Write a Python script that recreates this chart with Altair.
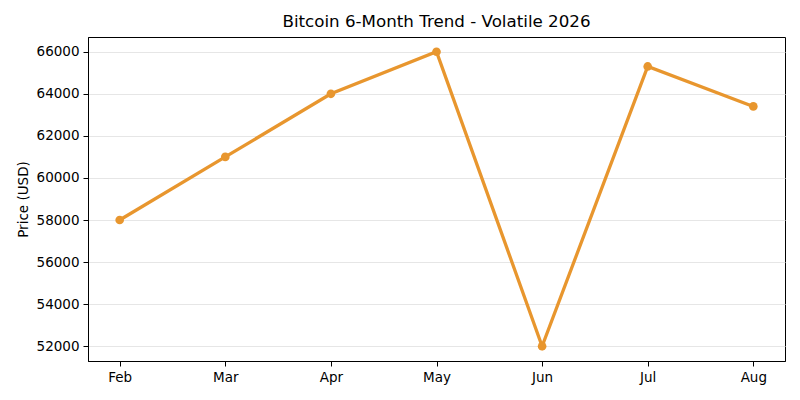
import altair as alt
import pandas as pd

months = ["Feb", "Mar", "Apr", "May", "Jun", "Jul", "Aug"]
prices = [58000, 61000, 64000, 66000, 52000, 65300, 63400]
y_ticks = [52000, 54000, 56000, 58000, 60000, 62000, 64000, 66000]

df = pd.DataFrame({"month": months, "price": prices})

FONT = "DejaVu Sans"
COLOR = "#E8962E"

x = alt.X("month:N", sort=months, title=None,
          scale=alt.Scale(type="point", padding=0.3),
          axis=alt.Axis(labelAngle=0, labelFontSize=13.5, labelColor="black",
                        labelFont=FONT, tickColor="black", tickSize=5,
                        domainColor="black", grid=False, labelPadding=4))
y = alt.Y("price:Q", title="Price (USD)",
          scale=alt.Scale(domain=[51300, 66700], nice=False, zero=False),
          axis=alt.Axis(values=y_ticks, format="d", labelFontSize=13.5,
                        labelColor="black", labelFont=FONT, tickColor="black",
                        tickSize=5, domainColor="black", grid=True,
                        gridColor="#e6e6e6", gridWidth=1, titleFontSize=13.5,
                        titleFont=FONT, titleFontWeight="normal",
                        titleColor="black", titlePadding=6, labelPadding=4))

base = alt.Chart(df).encode(x=x, y=y)
line = base.mark_line(color=COLOR, strokeWidth=3.3)
pts = base.mark_circle(color=COLOR, size=75, opacity=1)

chart = (line + pts).properties(
    width=697, height=324,
    title=alt.TitleParams("Bitcoin 6-Month Trend - Volatile 2026",
                          fontSize=16.7, font=FONT, fontWeight="normal",
                          color="black", offset=6),
    autosize=alt.AutoSizeParams(type="none"),
    padding={"left": 80, "top": 29, "right": 7, "bottom": 31},
).configure(background="white").configure_view(stroke="black", strokeWidth=1)

chart.save("out.html", embed_options={"renderer": "svg", "actions": False})
